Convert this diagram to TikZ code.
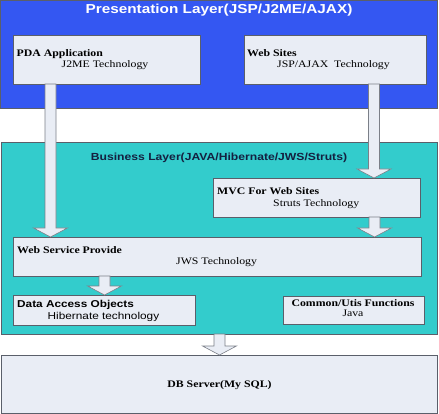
\documentclass[tikz,border=0pt]{standalone}
\usepackage{fontspec}
\setmainfont{Liberation Serif}[FakeStretch=1.18]
\setsansfont{Liberation Sans}[FakeStretch=1.18]
\usetikzlibrary{calc}
\definecolor{presblue}{HTML}{3457F2}
\definecolor{busteal}{HTML}{33CCCC}
\definecolor{boxfill}{HTML}{E9EDF5}
\definecolor{boxline}{HTML}{5A5F6A}
\definecolor{navytext}{HTML}{142040}
\tikzset{
  layer/.style={draw=boxline,line width=0.8pt,anchor=north west,inner sep=0pt,outer sep=0pt},
  box/.style={draw=boxline,line width=0.8pt,fill=boxfill,anchor=north west,inner sep=0pt,outer sep=0pt},
  txt/.style={inner sep=0pt,anchor=base west,font=\fontsize{10}{12}\selectfont},
  hd/.style={txt,font=\fontsize{10}{12}\selectfont\bfseries},
  fatarrow/.style={draw=boxline!80,line width=0.6pt,fill=boxfill,line join=miter}
}
\newcommand{\fatarrow}[2]{%
  \draw[fatarrow] let \p1=(#1), \p2=(#2.north) in
    (\x1-5.5pt,\y1) -- (\x1-5.5pt,\y2+9pt) -- (\x1-17pt,\y2+9pt) -- (\x1,\y2)
    -- (\x1+17pt,\y2+9pt) -- (\x1+5.5pt,\y2+9pt) -- (\x1+5.5pt,\y1) -- cycle;}
\begin{document}
\begin{tikzpicture}[x=1pt,y=-1pt]
	\useasboundingbox (0,0) rectangle (439,414);
	% layers
	\node[layer,fill=presblue,minimum width=437pt,minimum height=108pt] (pres) at (0.5,0.5) {};
	\node[layer,fill=busteal,minimum width=436pt,minimum height=192pt] (bus) at (1,142) {};
	\node[box,minimum width=436pt,minimum height=58pt] (db) at (1,355) {};
	% boxes
	\node[box,minimum width=187pt,minimum height=49pt] (pda) at (13,35) {};
	\node[box,minimum width=182pt,minimum height=49pt] (web) at (244,35) {};
	\node[box,minimum width=207pt,minimum height=39pt] (mvc) at (213,178) {};
	\node[box,minimum width=408pt,minimum height=39pt] (ws) at (13,237) {};
	\node[box,minimum width=182pt,minimum height=30pt] (dao) at (13,295) {};
	\node[box,minimum width=141pt,minimum height=28pt] (util) at (283,296) {};
	% texts
	\node[inner sep=0pt,anchor=base,text=white,font=\sffamily\bfseries\fontsize{13}{15}\selectfont] (prest) at (219,13.5) {Presentation Layer(JSP/J2ME/AJAX)};
	\node[inner sep=0pt,anchor=base,text=navytext,font=\sffamily\bfseries\fontsize{10.3}{12}\selectfont] (bust) at (219,161) {Business Layer(JAVA/Hibernate/JWS/Struts)};
	\node[hd] (pdat) at (16.5,56.5) {PDA Application};
	\node[txt] (pdas) at (61.5,68) {J2ME Technology};
	\node[hd] (webt) at (247,56.5) {Web Sites};
	\node[txt] (webs) at (277,68) {JSP/AJAX\ \ Technology};
	\node[hd] (mvct) at (217,194.5) {MVC For Web Sites};
	\node[txt] (mvcs) at (273,206.5) {Struts Technology};
	\node[hd] (wst) at (17,253.7) {Web Service Provide};
	\node[txt] (wss) at (176,265) {JWS Technology};
	\node[hd,font=\sffamily\bfseries\fontsize{10}{12}\selectfont] (daot) at (17,307.3) {Data Access Objects};
	\node[txt,font=\sffamily\fontsize{10}{12}\selectfont] (daos) at (47.5,319) {Hibernate technology};
	\node[hd,anchor=base] (utilt) at (353,306.7) {Common/Utis Functions};
	\node[txt,anchor=base] (utils) at (353,316.5) {Java};
	\node[hd,anchor=base] (dbt) at (219.5,387) {DB Server(My SQL)};
	% arrows
	\fatarrow{50.5,0 |- pda.south}{ws}
	\fatarrow{374,0 |- web.south}{mvc}
	\fatarrow{374.5,0 |- mvc.south}{ws}
	\fatarrow{104.5,0 |- ws.south}{dao}
	\fatarrow{219.5,0 |- bus.south}{db}
\end{tikzpicture}
\end{document}
